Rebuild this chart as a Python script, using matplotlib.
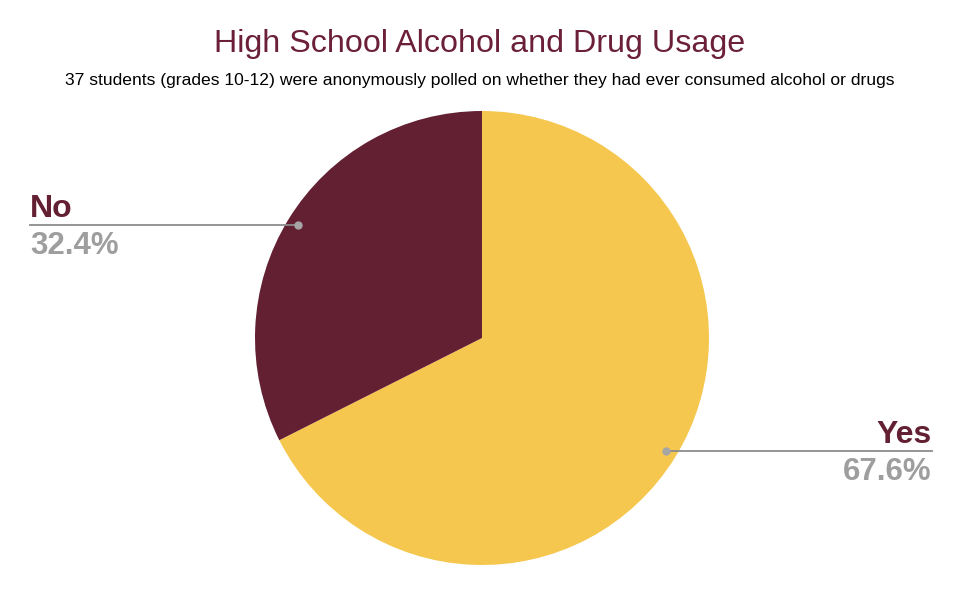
import numpy as np
import matplotlib.pyplot as plt

plt.rcParams['font.family'] = ['Liberation Sans', 'DejaVu Sans']

labels = ['Yes', 'No']
counts = [25, 12]
colors = ['#F5C74E', '#632033']

title = 'High School Alcohol and Drug Usage'
subtitle = '37 students (grades 10-12) were anonymously polled on whether they had ever consumed alcohol or drugs'

W, H = 960, 593
fig = plt.figure(figsize=(W / 100, H / 100), dpi=100)
ax = fig.add_axes([0, 0, 1, 1])

cx, cy, r = 482, H - 338, 227
wedges, _ = ax.pie(counts, colors=colors, startangle=90, counterclock=False,
                   center=(cx, cy), radius=r, frame=True,
                   wedgeprops=dict(linewidth=0))
ax.set_xlim(0, W)
ax.set_ylim(0, H)
ax.axis('off')

total = sum(counts)
label_x = {'Yes': 932, 'No': 30}
for w, lab, c in zip(wedges, labels, counts):
    mid = np.deg2rad((w.theta1 + w.theta2) / 2)
    dx, dy = cx + 0.95 * r * np.cos(mid), cy + 0.95 * r * np.sin(mid)
    lx = label_x[lab]
    ax.plot([dx, lx], [dy, dy], color='#8c8c8c', lw=1.3, zorder=3)
    ax.plot(dx, dy, 'o', color='#a6a6a6', ms=5, zorder=4)
    ha = 'left' if lx < cx else 'right'
    ax.text(lx, dy + 8, lab, ha=ha, va='baseline', fontsize=23, fontweight='bold',
            color='#632033')
    ax.text(lx, dy - 6, f'{100 * c / total:.1f}%', ha=ha, va='top', fontsize=22.5,
            fontweight='bold', color='#9e9e9e')

fig.text(0.5, 1 - 44 / H, title, ha='center', va='center', fontsize=23.2, color='#6B2038')
fig.text(0.5, 1 - 81 / H, subtitle, ha='center', va='center', fontsize=12.6, color='black')

fig.savefig('out.png', dpi=100)
